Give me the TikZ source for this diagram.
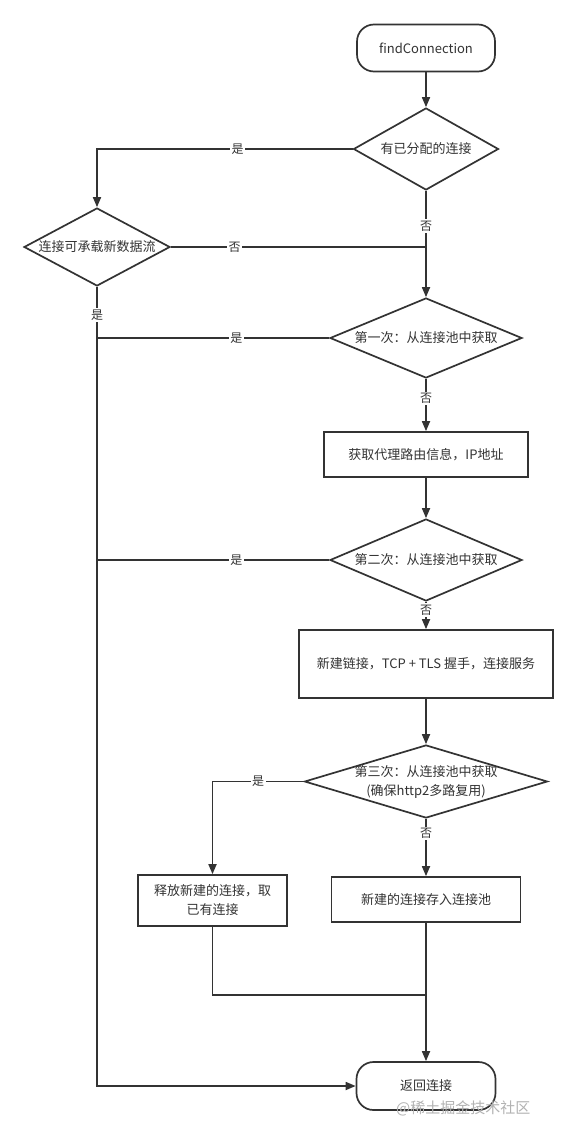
\documentclass[tikz,border=0pt]{standalone}
\usepackage{fontspec}
\setmainfont{Noto Sans CJK SC}
\usetikzlibrary{shapes.geometric,arrows.meta}
\definecolor{ln}{HTML}{333333}
\begin{document}
\begin{tikzpicture}[x=1pt,y=-1pt,
  every node/.style={text=ln},
  base/.style={draw=ln, line width=1.7pt, fill=white, inner sep=0pt, font=\fontsize{13}{19}\selectfont, align=center},
  term/.style={base, rectangle, rounded corners=17pt},
  boxnode/.style={base, rectangle},
  dia/.style={base, diamond},
  dtext/.style={font=\fontsize{13}{19}\selectfont, align=center, inner sep=0pt},
  lbl/.style={fill=white, font=\fontsize{12}{12}\selectfont, inner sep=1.5pt},
  conn/.style={draw=ln, line width=1.7pt},
  arr/.style={conn, -{Triangle[length=10pt,width=8pt]}}]
\useasboundingbox[fill=white] (0,0) rectangle (576,1135);

\node[term, minimum width=138pt, minimum height=47pt] (start) at (426,48) {findConnection};
\node[dia, minimum width=145pt, minimum height=82pt] (d1) at (426,149) {};
\node[dtext] at (d1) {有已分配的连接};
\node[dia, minimum width=146pt, minimum height=78pt] (d2) at (97,247) {};
\node[dtext] at (d2) {连接可承载新数据流};
\node[dia, minimum width=192pt, minimum height=80pt] (d3) at (426,338) {};
\node[dtext] at (d3) {第一次：从连接池中获取};
\node[boxnode, minimum width=204pt, minimum height=45pt] (r1) at (426,454.5) {获取代理路由信息，IP地址};
\node[dia, minimum width=192pt, minimum height=82pt] (d4) at (426,560) {};
\node[dtext] at (d4) {第二次：从连接池中获取};
\node[boxnode, minimum width=254pt, minimum height=68pt] (r2) at (426,664) {新建链接，TCP + TLS 握手，连接服务};
\node[dia, minimum width=243pt, minimum height=73pt] (d5) at (426,781.5) {};
\node[dtext] at (d5) {第三次：从连接池中获取\\(确保http2多路复用)};
\node[boxnode, minimum width=149pt, minimum height=51pt] (r3) at (212.5,900.5) {释放新建的连接，取\\已有连接};
\node[boxnode, minimum width=189pt, minimum height=45pt] (r4) at (426,899.5) {新建的连接存入连接池};
\node[term, minimum width=139pt, minimum height=48pt] (end) at (426,1086) {返回连接};
\coordinate (j) at (426,995);

\draw[arr] (start) -- (d1);
\draw[arr] (d1.west) -- node[lbl,pos=0.45]{是} (d1.west -| d2.north) -- (d2.north);
\draw[arr] (d1.south) -- node[lbl,pos=0.33]{否} (d3.north);
\draw[conn] (d2.east) -- node[lbl,pos=0.25]{否} (d2.east -| d1.south);
\draw[arr] (d2.south) -- node[lbl,pos=0.035]{是} (d2.south |- end.west) -- (end.west);
\draw[conn] (d3.west) -- node[lbl,pos=0.4]{是} (d3.west -| d2.south);
\draw[arr] (d3.south) -- node[lbl,pos=0.37]{否} (r1.north);
\draw[arr] (r1.south) -- (d4.north);
\draw[conn] (d4.west) -- node[lbl,pos=0.4]{是} (d4.west -| d2.south);
\draw[arr] (d4.south) -- node[lbl,pos=0.3]{否} (r2.north);
\draw[arr] (r2.south) -- (d5.north);
\draw[arr] (d5.west) -- node[lbl,pos=0.5]{是} (d5.west -| r3.north) -- (r3.north);
\draw[arr] (d5.south) -- node[lbl,pos=0.25]{否} (r4.north);
\draw[conn] (r3.south) |- (j);
\draw[arr] (r4.south) -- (end.north);

\node[text=black!30, font=\fontsize{15}{15}\selectfont, anchor=west, inner sep=0pt] (wm) at (396,1108) {@稀土掘金技术社区};
\end{tikzpicture}
\end{document}
